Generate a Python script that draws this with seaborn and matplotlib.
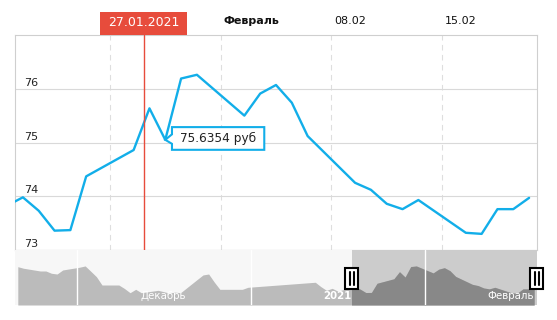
import matplotlib
matplotlib.use("Agg")
import matplotlib.pyplot as plt
import matplotlib.dates as mdates
from matplotlib.patches import Rectangle, Polygon
from matplotlib.transforms import IdentityTransform
import seaborn as sns
import pandas as pd

# ---------------- data ----------------
hist_dates = ["2020-11-20", "2020-11-21", "2020-11-24", "2020-11-25", "2020-11-26",
              "2020-11-27", "2020-11-28", "2020-12-01", "2020-12-02", "2020-12-03",
              "2020-12-04", "2020-12-05", "2020-12-08", "2020-12-09", "2020-12-10",
              "2020-12-11", "2020-12-12", "2020-12-15", "2020-12-16", "2020-12-17",
              "2020-12-18", "2020-12-19", "2020-12-22", "2020-12-23", "2020-12-24",
              "2020-12-25", "2020-12-26", "2020-12-29", "2020-12-30", "2020-12-31",
              "2021-01-12", "2021-01-13", "2021-01-14", "2021-01-15", "2021-01-16"]
hist_rates = [76.18, 76.01, 75.71, 75.71, 75.46,
              75.38, 75.82, 76.12, 76.26, 75.68,
              75.09, 74.18, 74.18, 73.80, 73.34,
              73.71, 73.34, 73.60, 73.45, 73.30,
              73.40, 73.34, 74.80, 75.28, 75.38,
              74.50, 73.71, 73.71, 73.71, 73.93,
              74.48, 74.00, 73.60, 73.82, 73.52]

dates = ["2021-01-19", "2021-01-20", "2021-01-21", "2021-01-22", "2021-01-23",
         "2021-01-26", "2021-01-27", "2021-01-28", "2021-01-29", "2021-01-30",
         "2021-02-02", "2021-02-03", "2021-02-04", "2021-02-05", "2021-02-06",
         "2021-02-09", "2021-02-10", "2021-02-11", "2021-02-12", "2021-02-13",
         "2021-02-16", "2021-02-17", "2021-02-18", "2021-02-19", "2021-02-20"]
rates = [73.98, 73.73, 73.36, 73.37, 74.37,
         74.86, 75.6354, 75.05, 76.19, 76.26,
         75.50, 75.91, 76.07, 75.74, 75.12,
         74.25, 74.12, 73.86, 73.76, 73.93,
         73.32, 73.30, 73.76, 73.76, 73.97]

y_ticks = [73, 74, 75, 76]
grid_dates = ["2021-01-25", "2021-02-01", "2021-02-08", "2021-02-15"]
x_label_dates = ["2021-02-01", "2021-02-08", "2021-02-15"]
x_tick_labels = ["Февраль", "08.02", "15.02"]
x_tick_bold = [True, False, False]

nav_month_starts = ["2020-12-01", "2021-01-01", "2021-02-01"]
nav_labels = ["Декабрь", "2021", "Февраль"]
nav_label_dates = ["2020-12-16 12:00", "2021-01-16 12:00", "2021-02-16 08:00"]
nav_label_bold = [False, True, False]

crosshair_date = "2021-01-27 03:30"
crosshair_label = "27.01.2021"
tooltip_anchor_date = "2021-01-28"
tooltip_text = "75.6354 руб"

main_range = ("2021-01-19", "2021-02-21")
nav_range = ("2020-11-20", "2021-02-21")

# ---------------- style ----------------
LINE = "#12aee9"
RED = "#e74c3c"
GRID = "#d9d9d9"

sns.set_theme(style="white")
plt.rcParams["font.family"] = ["DejaVu Sans"]

W, H = 557, 320
fig = plt.figure(figsize=(W / 100, H / 100), dpi=100)
ax = fig.add_axes([15 / W, 70 / H, 522 / W, 215 / H])
nav = fig.add_axes([15 / W, 15 / H, 522 / W, 55 / H])

df = pd.DataFrame({
    "date": pd.to_datetime(hist_dates + dates) + pd.Timedelta(hours=12),
    "rate": hist_rates + rates,
})

# ---------------- main chart ----------------
sns.lineplot(data=df, x="date", y="rate", ax=ax, color=LINE, linewidth=1.7, zorder=3)
x0, x1 = pd.Timestamp(main_range[0]), pd.Timestamp(main_range[1])
ax.set_xlim(x0, x1)
ax.set_ylim(73, 77)
ax.set_xlabel("")
ax.set_ylabel("")
ax.set_yticks(y_ticks)
ax.set_xticks(pd.to_datetime(grid_dates))
ax.tick_params(length=0, labelleft=False, labelbottom=False)
ax.yaxis.grid(True, color=GRID, linewidth=0.8)
ax.xaxis.grid(True, color="#dedede", linewidth=0.8, linestyle=(0, (5, 4)))
for s in ax.spines.values():
    s.set_color("#cfcfcf")
    s.set_linewidth(0.8)

for v in y_ticks:
    ax.annotate(str(v), xy=(0, v), xycoords=("axes fraction", "data"),
                xytext=(9, 1), textcoords="offset pixels",
                ha="left", va="bottom", fontsize=8, color="#222222")

for d, lab, b in zip(x_label_dates, x_tick_labels, x_tick_bold):
    ax.annotate(lab, xy=(pd.Timestamp(d), 1), xycoords=("data", "axes fraction"),
                xytext=(3, 14), textcoords="offset pixels", ha="left", va="center",
                fontsize=8, color="#111111", fontweight="bold" if b else "normal",
                annotation_clip=False, zorder=1)

cross = pd.Timestamp(crosshair_date)
ax.axvline(cross, color=RED, linewidth=1.0, zorder=4)

fig.canvas.draw()
px = ax.transData.transform((mdates.date2num(cross), 75))[0]
fig.add_artist(Rectangle((px - 43.5, H - 35), 87, 23, transform=IdentityTransform(),
                         facecolor=RED, edgecolor="none", zorder=10))
fig.text(px, H - 22.5, crosshair_label, transform=IdentityTransform(),
         ha="center", va="center", color="white", fontsize=9, zorder=11)

# tooltip with callout
ta = pd.Timestamp(tooltip_anchor_date) + pd.Timedelta(hours=12)
tv = df.loc[df["date"] == ta, "rate"].iloc[0]
tx, ty = ax.transData.transform((mdates.date2num(ta), tv))
L, R = tx + 6.7, tx + 99
T, B = ty + 12.7, ty - 10
verts = [(L, T), (R, T), (R, B), (L, B), (L, ty - 4), (tx, ty), (L, ty + 5.5)]
fig.add_artist(Polygon(verts, closed=True, transform=IdentityTransform(),
                       facecolor="white", edgecolor=LINE, linewidth=1.5, zorder=10))
fig.text((L + R) / 2, (T + B) / 2, tooltip_text, transform=IdentityTransform(),
         ha="center", va="center", fontsize=8.7, color="#222222", zorder=11)

# ---------------- navigator ----------------
n0, n1 = pd.Timestamp(nav_range[0]), pd.Timestamp(nav_range[1])
nav.set_facecolor("#f7f7f7")
nav.set_xlim(n0, n1)
nav.set_ylim(72, 78)
nav.axvspan(x0, x1, color="#cccccc", linewidth=0, zorder=0.5)
nav.fill_between(df["date"], df["rate"], 72, color="#bbbbbb", linewidth=0, zorder=1)
sel = nav.fill_between(df["date"], df["rate"], 72, color="#888888", linewidth=0, zorder=1.5)
clip = Rectangle((mdates.date2num(x0), 72), mdates.date2num(x1) - mdates.date2num(x0), 6,
                 transform=nav.transData, facecolor="none", edgecolor="none")
nav.add_patch(clip)
sel.set_clip_path(clip)
for d in nav_month_starts:
    nav.axvline(pd.Timestamp(d), color="white", linewidth=1.0, zorder=3)
for d, lab, b in zip(nav_label_dates, nav_labels, nav_label_bold):
    nav.text(pd.Timestamp(d), 0.17, lab, transform=nav.get_xaxis_transform(),
             ha="center", va="center", color="white", fontsize=7.4,
             fontweight="bold" if b else "normal", zorder=4)
nav.set_xticks([])
nav.set_yticks([])
nav.set_xlabel("")
nav.set_ylabel("")
for s in nav.spines.values():
    s.set_visible(False)

fig.canvas.draw()
for edge in (x0, x1):
    hx = nav.transData.transform((mdates.date2num(edge), 75))[0]
    left = hx - 6.5
    bottom = H - 289.3
    fig.add_artist(Rectangle((left, bottom), 13, 21.6, transform=IdentityTransform(),
                             facecolor="white", edgecolor="black", linewidth=1.5, zorder=12))
    for off in (4.7, 8.3):
        fig.add_artist(plt.Line2D([left + off, left + off], [H - 285, H - 271.7],
                                  transform=IdentityTransform(), color="black",
                                  linewidth=1.5, zorder=13))

fig.savefig("out.png", dpi=100)
